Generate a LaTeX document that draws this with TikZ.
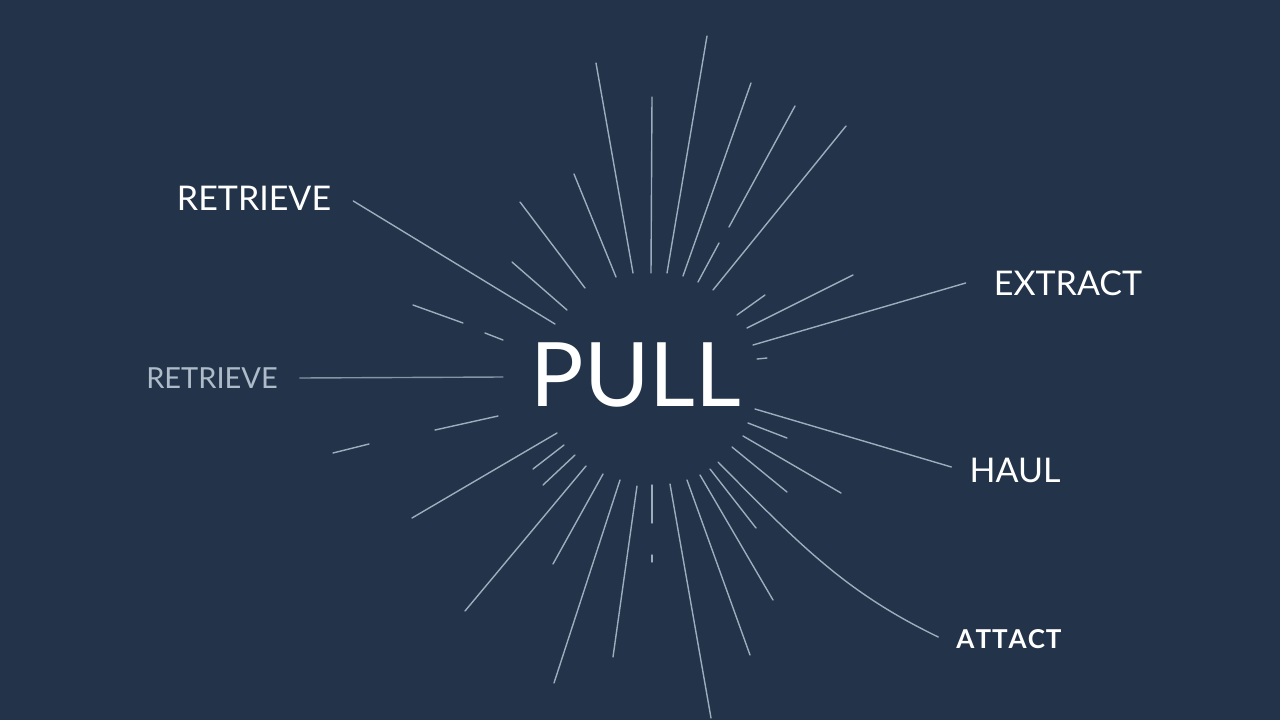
\documentclass[tikz,border=0pt]{standalone}
\usepackage{fontspec}
\setmainfont{Lato}
\usetikzlibrary{positioning}
\definecolor{navy}{HTML}{22334A}
\definecolor{raygrey}{HTML}{9DADBD}
\definecolor{wordgrey}{HTML}{AEBBC8}

\begin{document}
\begin{tikzpicture}[x=1pt,y=-1pt,
    ray/.style={draw=raygrey, line width=1.4pt, line cap=round},
    word/.style={text=white, inner sep=0pt, font=\fontsize{34}{34}\selectfont}]
    \fill[navy] (0,0) rectangle (1280,720);
    \node[text=white, inner sep=0pt, font=\fontsize{89}{89}\selectfont] at (636,375) (pull) {PULL};
	\node[word] at (254,198) (ret1) {RETRIEVE};
	\node[word, text=wordgrey, font=\fontsize{29}{29}\selectfont] at (212,378) (ret2) {RETRIEVE};
	\node[word] at (1068,283) (extract) {EXTRACT};
	\node[word] at (1015,470) (haul) {HAUL};
	\node[word, font=\bfseries\fontsize{26}{26}\selectfont] at (1009,639) (attract) {A\kern1ptT\kern1ptT\kern1ptA\kern1ptC\kern1ptT};
    % inner ends of the labelled rays
    \coordinate (c1) at (555,324);
    \coordinate (c2) at (503,377);
    \coordinate (c3) at (753,345);
    \coordinate (c4) at (755,409);
    \coordinate (c5) at (718,462);
	\draw[ray] ([xshift=22pt,yshift=-3pt]ret1.east) -- (c1);
	\draw[ray, draw=raygrey!80!navy] ([xshift=22pt]ret2.east) -- (c2);
	\draw[ray] (c3) -- ([xshift=-28pt]extract.west);
	\draw[ray] (c4) -- ([xshift=-18pt,yshift=3pt]haul.west);
	\draw[ray] (c5) .. controls (800,545) and (845,592) .. ([xshift=-18pt,yshift=2pt]attract.west);
    % free rays
    \foreach \xa/\ya/\xb/\yb in {633/273/596/63, 616/277/574/174, 585/288/520/202,
        567/310/512/262, 651/273/652/97, 667/273/707/36, 683/276/751/83,
        729/227/795/106, 713/290/846/126, 698/282/719/243,
        463/323/413/305, 503/340/485/333, 498/416/435/430, 369/444/333/453,
        557/433/412/518, 564/445/533/469, 575/455/543/485,
        586/466/465/611, 603/474/553/564, 620/480/554/683, 637/486/613/657,
        652/485/652/523, 652/555/652/562, 670/484/711/718, 687/480/750/655,
        700/475/773/600, 710/469/756/528,
        732/447/787/492, 743/436/841/493, 748/423/787/438,
        747/328/853/275, 737/315/765/295, 757/359/767/358}
        \draw[ray] (\xa,\ya) -- (\xb,\yb);
\end{tikzpicture}
\end{document}
